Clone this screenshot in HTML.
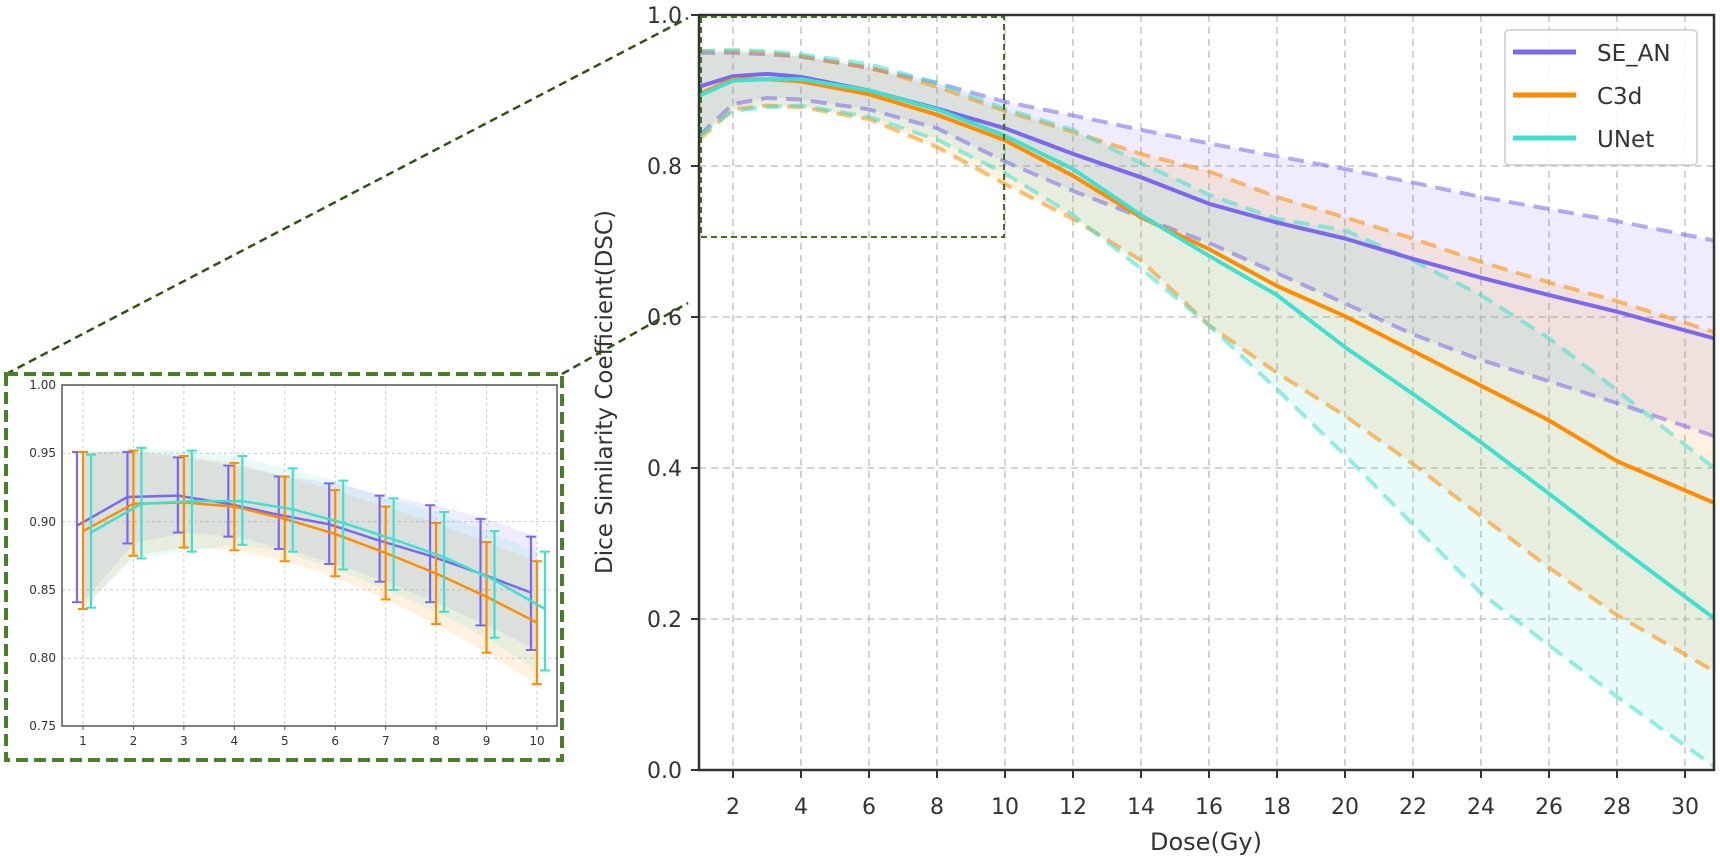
<!DOCTYPE html>
<html><head><meta charset="utf-8">
<style>
html,body{margin:0;padding:0;background:#fff;}
svg{display:block;font-family:"DejaVu Sans","Liberation Sans",sans-serif;}
</style></head>
<body>
<svg id="s" width="1720" height="860" viewBox="0 0 1720 860" xmlns="http://www.w3.org/2000/svg">
<defs>
<clipPath id="cm"><rect x="699" y="15" width="1015" height="755"/></clipPath>
<clipPath id="ci"><rect x="62" y="385" width="495" height="341"/></clipPath>
</defs>
<g id="maingrid" stroke="#bbb" stroke-width="1.3" stroke-dasharray="7,5"></g>
<g id="mainfill" clip-path="url(#cm)"></g>
<g id="maindash" clip-path="url(#cm)"></g>
<g id="mainline" clip-path="url(#cm)"></g>
<rect x="699" y="15" width="1015" height="755" fill="none" stroke="#333" stroke-width="2.5"/>
<g id="mainticks" stroke="#333" stroke-width="2"></g>
<g font-size="22" fill="#333" text-anchor="end">
<text x="682" y="778">0.0</text><text x="682" y="627">0.2</text><text x="682" y="476">0.4</text>
<text x="682" y="325">0.6</text><text x="682" y="174">0.8</text><text x="682" y="23">1.0</text>
</g>
<g id="xlabels" font-size="22" fill="#333" text-anchor="middle"></g>
<text x="1206" y="850" font-size="24" fill="#333" text-anchor="middle">Dose(Gy)</text>
<text transform="translate(612,392) rotate(-90)" font-size="23" fill="#333" text-anchor="middle">Dice Similarity Coefficient(DSC)</text>
<!-- legend -->
<rect x="1505" y="30" width="192" height="135" rx="4" fill="#fff" fill-opacity="0.85" stroke="#ccc" stroke-width="1.5"/>
<line x1="1513" y1="52" x2="1576" y2="52" stroke="#7b68ee" stroke-width="5"/>
<line x1="1513" y1="95" x2="1576" y2="95" stroke="#ff8c00" stroke-width="5"/>
<line x1="1513" y1="138" x2="1576" y2="138" stroke="#40e0d0" stroke-width="5"/>
<g font-size="23" fill="#333"><text x="1597" y="61">SE_AN</text><text x="1597" y="104">C3d</text><text x="1597" y="147">UNet</text></g>
<!-- zoom box -->
<rect x="701" y="17" width="303" height="220" fill="none" stroke="#3f6f1f" stroke-width="2" stroke-dasharray="6,4"/>
<line x1="6" y1="374" x2="688" y2="18" stroke="#2f5514" stroke-width="2.5" stroke-dasharray="8,5"/>
<line x1="562" y1="374" x2="688" y2="303" stroke="#2f5514" stroke-width="2.5" stroke-dasharray="8,5"/>
<!-- inset -->
<g id="insetgrid" stroke="#ccc" stroke-width="1" stroke-dasharray="3,3"></g>
<g id="insetfill" clip-path="url(#ci)"></g>
<g id="insetline" clip-path="url(#ci)"></g>
<rect x="62" y="385" width="495" height="341" fill="none" stroke="#555" stroke-width="1.5"/>
<g font-size="12" fill="#333" text-anchor="end">
<text x="56" y="389">1.00</text><text x="56" y="457">0.95</text><text x="56" y="526">0.90</text>
<text x="56" y="594">0.85</text><text x="56" y="662">0.80</text><text x="56" y="730">0.75</text>
</g>
<g id="ixlabels" font-size="12" fill="#333" text-anchor="middle"></g>
<rect x="6" y="374" width="556" height="386" fill="none" stroke="#4a7f2a" stroke-width="4" stroke-dasharray="12,6"/>
</svg>
<script>
var NS="http://www.w3.org/2000/svg";
function el(p,t,a){var e=document.createElementNS(NS,t);for(var k in a)e.setAttribute(k,a[k]);document.getElementById(p).appendChild(e);return e;}
var X=function(v){return 699+(v-1)*34}, Y=function(v){return 770-v*755};
// grid + ticks
for(var d=2;d<=30;d+=2){el('maingrid','line',{x1:X(d),y1:15,x2:X(d),y2:770});el('mainticks','line',{x1:X(d),y1:770,x2:X(d),y2:778});
 var t=el('xlabels','text',{x:X(d),y:814});t.textContent=d;}
for(var i=1;i<5;i++){el('maingrid','line',{x1:699,y1:Y(i*0.2),x2:1714,y2:Y(i*0.2)});}
for(var i=0;i<=5;i++){el('mainticks','line',{x1:691,y1:Y(i*0.2),x2:699,y2:Y(i*0.2)});}
var xs=[1,2,3,4,6,8,10,12,14,16,18,20,22,24,26,28,31];
var S={
 c:['#7b68ee','#ff8c00','#40e0d0'],
 m:[[0.905,0.919,0.922,0.918,0.90,0.876,0.85,0.816,0.785,0.75,0.725,0.704,0.677,0.652,0.629,0.607,0.570],
    [0.895,0.915,0.915,0.912,0.895,0.868,0.834,0.787,0.732,0.69,0.641,0.601,0.555,0.509,0.463,0.409,0.351],
    [0.893,0.913,0.915,0.915,0.90,0.875,0.84,0.796,0.735,0.681,0.629,0.560,0.498,0.434,0.366,0.297,0.196]],
 u:[[0.95,0.95,0.948,0.945,0.93,0.91,0.885,0.867,0.848,0.830,0.813,0.796,0.778,0.759,0.743,0.727,0.70],
    [0.952,0.952,0.95,0.945,0.93,0.905,0.873,0.845,0.816,0.793,0.759,0.732,0.704,0.673,0.646,0.621,0.578],
    [0.952,0.954,0.952,0.948,0.935,0.91,0.876,0.848,0.804,0.762,0.730,0.715,0.675,0.629,0.572,0.503,0.395]],
 l:[[0.84,0.882,0.89,0.888,0.875,0.85,0.806,0.767,0.732,0.698,0.658,0.618,0.577,0.543,0.515,0.486,0.44],
    [0.835,0.875,0.88,0.878,0.862,0.825,0.776,0.730,0.675,0.589,0.526,0.469,0.405,0.336,0.268,0.205,0.127],
    [0.84,0.873,0.878,0.88,0.865,0.835,0.79,0.735,0.664,0.589,0.504,0.417,0.325,0.234,0.165,0.097,0.0]]
};
function pts(a,fx,fy,xv){return a.map(function(v,i){return fx(xv[i]).toFixed(1)+','+fy(v).toFixed(1)}).join(' ');}
for(var k=0;k<3;k++){
 var up=pts(S.u[k],X,Y,xs), lo=S.l[k].map(function(v,i){return X(xs[i]).toFixed(1)+','+Y(v).toFixed(1)}).reverse().join(' ');
 el('mainfill','polygon',{points:up+' '+lo,fill:S.c[k],'fill-opacity':0.12,stroke:'none'});
 el('maindash','polyline',{points:up,fill:'none',stroke:S.c[k],'stroke-opacity':0.55,'stroke-width':4,'stroke-dasharray':'16,9'});
 el('maindash','polyline',{points:pts(S.l[k],X,Y,xs),fill:'none',stroke:S.c[k],'stroke-opacity':0.55,'stroke-width':4,'stroke-dasharray':'16,9'});
}
for(var k=0;k<3;k++) el('mainline','polyline',{points:pts(S.m[k],X,Y,xs),fill:'none',stroke:S.c[k],'stroke-width':4,'stroke-linejoin':'round'});
// inset
var IX=function(v){return 83+(v-1)*50.44}, IY=function(v){return 385+(1-v)/0.05*68.3};
for(var d=1;d<=10;d++){el('insetgrid','line',{x1:IX(d),y1:385,x2:IX(d),y2:726});var t=el('ixlabels','text',{x:IX(d),y:745});t.textContent=d;
 el('insetgrid','line',{x1:IX(d),y1:726,x2:IX(d),y2:730,stroke:'#555','stroke-dasharray':'none'});}
for(var i=1;i<5;i++) el('insetgrid','line',{x1:62,y1:IY(1-i*0.05),x2:557,y2:IY(1-i*0.05)});
var ix=[1,2,3,4,5,6,7,8,9,10], off=[-6,0,8];
var IM=[[0.897,0.918,0.919,0.913,0.905,0.898,0.886,0.875,0.862,0.848],
        [0.893,0.913,0.914,0.911,0.902,0.891,0.877,0.862,0.845,0.826],
        [0.892,0.913,0.915,0.915,0.909,0.899,0.887,0.874,0.857,0.836]];
var IU=[[0.951,0.951,0.947,0.941,0.933,0.928,0.919,0.912,0.902,0.889],
        [0.951,0.952,0.948,0.943,0.933,0.923,0.911,0.899,0.885,0.871],
        [0.949,0.954,0.952,0.948,0.939,0.930,0.917,0.907,0.893,0.878]];
var IL=[[0.841,0.884,0.892,0.889,0.880,0.869,0.856,0.841,0.824,0.806],
        [0.836,0.875,0.881,0.879,0.871,0.860,0.843,0.825,0.804,0.781],
        [0.837,0.873,0.878,0.883,0.878,0.865,0.850,0.834,0.815,0.791]];
for(var k=0;k<3;k++){
 var up=IU[k].map(function(v,i){return IX(ix[i]).toFixed(1)+','+IY(v).toFixed(1)}).join(' ');
 var lo=IL[k].map(function(v,i){return IX(ix[i]).toFixed(1)+','+IY(v).toFixed(1)}).reverse().join(' ');
 el('insetfill','polygon',{points:up+' '+lo,fill:S.c[k],'fill-opacity':0.12});
}
for(var k=0;k<3;k++){
 var p=IM[k].map(function(v,i){return (IX(ix[i])+off[k]).toFixed(1)+','+IY(v).toFixed(1)}).join(' ');
 el('insetline','polyline',{points:p,fill:'none',stroke:S.c[k],'stroke-width':2.5});
 for(var i=0;i<10;i++){var x=IX(ix[i])+off[k],a=IY(IU[k][i]),b=IY(IL[k][i]);
  el('insetline','line',{x1:x,y1:a,x2:x,y2:b,stroke:S.c[k],'stroke-width':2.2});
  el('insetline','line',{x1:x-5,y1:a,x2:x+5,y2:a,stroke:S.c[k],'stroke-width':2});
  el('insetline','line',{x1:x-5,y1:b,x2:x+5,y2:b,stroke:S.c[k],'stroke-width':2});}
}
</script>
</body></html>
